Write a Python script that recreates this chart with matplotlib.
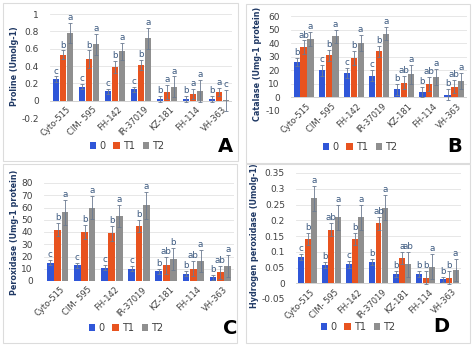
import matplotlib
matplotlib.use("Agg")
import matplotlib.pyplot as plt
from matplotlib.patches import Patch, Rectangle
import numpy as np

W, H = 474, 346

cultivars = ["Cyto-515", "CIM- 595", "FH-142", "IR-37019", "KZ-181", "FH-114", "VH-363"]
treatments = ["0", "T1", "T2"]
colors = ["#2f56d8", "#e8531f", "#8f8f8f"]

# Proline
proline_0 = [0.25, 0.16, 0.11, 0.13, 0.02, 0.02, 0.02]
proline_t1 = [0.53, 0.48, 0.39, 0.41, 0.10, 0.08, 0.10]
proline_t2 = [0.78, 0.65, 0.57, 0.72, 0.16, 0.11, 0.005]
proline_err_0 = [0.03, 0.03, 0.03, 0.03, 0.03, 0.03, 0.03]
proline_err_t1 = [0.05, 0.10, 0.07, 0.06, 0.08, 0.06, 0.05]
proline_err_t2 = [0.12, 0.12, 0.10, 0.12, 0.12, 0.13, 0.12]
proline_letters = [["c", "b", "a"], ["c", "b", "a"], ["c", "b", "a"], ["c", "b", "a"],
                   ["b", "a", "a"], ["b", "a", "a"], ["b", "a", "c"]]

# Catalase
catalase_0 = [26, 20, 18, 16, 6, 4, 2]
catalase_t1 = [37, 31, 29, 34, 11, 10, 8]
catalase_t2 = [43, 45, 40, 47, 17, 15, 12]
catalase_err_0 = [3, 4, 4, 4, 4, 4, 4]
catalase_err_t1 = [5, 4, 5, 4, 5, 5, 5]
catalase_err_t2 = [5, 5, 6, 5, 7, 6, 6]
catalase_letters = [["b", "ab", "a"], ["c", "b", "a"], ["c", "b", "a"], ["c", "b", "a"],
                    ["b", "ab", "a"], ["b", "ab", "a"], ["b", "ab", "a"]]

# Peroxidase
peroxidase_0 = [15, 13, 11, 10, 8, 6, 3]
peroxidase_t1 = [42, 40, 39, 45, 13, 10, 7]
peroxidase_t2 = [56, 60, 53, 62, 18, 16, 12]
peroxidase_err_0 = [2, 2, 2, 2, 2, 2, 2]
peroxidase_err_t1 = [5, 6, 6, 5, 7, 6, 5]
peroxidase_err_t2 = [10, 9, 9, 11, 9, 9, 9]
peroxidase_letters = [["c", "b", "a"], ["c", "b", "a"], ["c", "b", "a"], ["c", "b", "a"],
                      ["b", "ab", "b"], ["b", "ab", "a"], ["b", "ab", "a"]]

# Hydrogen peroxidase
h2o2_0 = [0.083, 0.058, 0.060, 0.067, 0.030, 0.030, 0.012]
h2o2_t1 = [0.14, 0.17, 0.14, 0.19, 0.08, 0.018, 0.018]
h2o2_t2 = [0.27, 0.21, 0.21, 0.24, 0.06, 0.053, 0.042]
h2o2_err_0 = [0.01, 0.01, 0.01, 0.01, 0.01, 0.01, 0.008]
h2o2_err_t1 = [0.02, 0.02, 0.02, 0.02, 0.02, 0.02, 0.02]
h2o2_err_t2 = [0.04, 0.04, 0.04, 0.04, 0.04, 0.04, 0.035]
h2o2_letters = [["c", "b", "a"], ["b", "ab", "a"], ["c", "b", "a"], ["b", "ab", "a"],
                ["b", "a", "ab"], ["b", "b", "a"], ["b", "b", "a"]]

fig = plt.figure(figsize=(W / 100, H / 100), dpi=100)
fig.patch.set_facecolor("white")


def px_axes(x0, y0, x1, y1):
    return fig.add_axes([x0 / W, 1 - y1 / H, (x1 - x0) / W, (y1 - y0) / H])


def panel_box(x0, y0, x1, y1):
    fig.patches.append(Rectangle((x0 / W, 1 - y1 / H), (x1 - x0) / W, (y1 - y0) / H,
                                 transform=fig.transFigure, fill=False,
                                 edgecolor="#dcdcdc", linewidth=0.8))


def draw_panel(box, ax_px, series, errs, letters, ylim, yticks, ylabel, tag,
               legend_xy, tag_xy, letter_pad):
    panel_box(*box)
    ax = px_axes(*ax_px)

    x = np.arange(len(cultivars))
    width = 0.25
    offsets = [-0.27, 0, 0.27]
    for i in range(3):
        ax.bar(x + offsets[i], series[i], width, color=colors[i], zorder=2,
               yerr=errs[i], error_kw=dict(ecolor="#6b7a90", elinewidth=0.6,
                                           capsize=1.5, capthick=0.6))
        for j in range(len(cultivars)):
            top = series[i][j] + errs[i][j]
            ax.text(x[j] + offsets[i], top + letter_pad, letters[j][i],
                    ha="center", va="bottom", fontsize=6.3, color="#3d5a80")
    ax.set_xlim(-0.5, len(cultivars) - 0.5)
    ax.set_ylim(*ylim)
    ax.set_yticks(yticks)
    ax.set_yticklabels([f"{v:g}" for v in yticks])
    ax.tick_params(axis="y", labelsize=6.5, labelcolor="#404040", length=0, pad=8)
    ax.yaxis.grid(True, color="#e3e3e3", linewidth=0.6, zorder=0)
    ax.set_axisbelow(True)
    ax.set_ylabel(ylabel, fontsize=5.8, fontweight="bold", color="#1f3864", labelpad=2)
    for s in ax.spines.values():
        s.set_visible(False)

    # category axis line and labels hang off the zero line
    ax.axhline(0, color="#d0d0d0", linewidth=0.6, zorder=1)
    ax.set_xticks([])
    for j, name in enumerate(cultivars):
        ax.annotate(name, (x[j], 0), xytext=(2, -3), textcoords="offset points",
                    rotation=45, ha="right", va="top", rotation_mode="anchor",
                    fontsize=6, color="#404040", annotation_clip=False)

    handles = [Patch(facecolor=c, edgecolor="none") for c in colors]
    fig.legend(handles, treatments, loc="center",
               bbox_to_anchor=(legend_xy[0] / W, 1 - legend_xy[1] / H),
               ncol=3, frameon=False, fontsize=7, handlelength=0.7, handleheight=0.7,
               handletextpad=0.3, columnspacing=0.8, labelcolor="#404040")
    fig.text(tag_xy[0] / W, 1 - tag_xy[1] / H, tag, fontsize=14, fontweight="bold",
             ha="center", va="center", color="black")
    return ax


draw_panel((3, 3, 238, 161), (50, 14, 232, 118),
           [proline_0, proline_t1, proline_t2],
           [proline_err_0, proline_err_t1, proline_err_t2], proline_letters,
           (-0.2, 1.0), [-0.2, 0, 0.2, 0.4, 0.6, 0.8, 1.0],
           "Proline (Umolg-1)", "A", (127, 146), (225, 147), 0.01)

draw_panel((246, 4, 470, 163), (291, 16, 467, 111),
           [catalase_0, catalase_t1, catalase_t2],
           [catalase_err_0, catalase_err_t1, catalase_err_t2], catalase_letters,
           (-10, 60), [-10, 0, 10, 20, 30, 40, 50, 60],
           "Catalase (Umg-1 protein)", "B", (360, 147), (455, 147), 0.6)

draw_panel((3, 164, 237, 343), (44, 183, 234, 281),
           [peroxidase_0, peroxidase_t1, peroxidase_t2],
           [peroxidase_err_0, peroxidase_err_t1, peroxidase_err_t2], peroxidase_letters,
           (0, 80), [0, 10, 20, 30, 40, 50, 60, 70, 80],
           "Peroxidase (Umg-1 protein)", "C", (126, 328), (230, 328), 0.8)

draw_panel((246, 164, 470, 343), (296, 173, 461, 299),
           [h2o2_0, h2o2_t1, h2o2_t2],
           [h2o2_err_0, h2o2_err_t1, h2o2_err_t2], h2o2_letters,
           (-0.05, 0.35), [-0.05, 0, 0.05, 0.1, 0.15, 0.2, 0.25, 0.3, 0.35],
           "Hydrogen peroxidase (Umolg-1)", "D", (358, 327), (441, 326), 0.003)

fig.savefig("out.png", dpi=100, facecolor="white")
